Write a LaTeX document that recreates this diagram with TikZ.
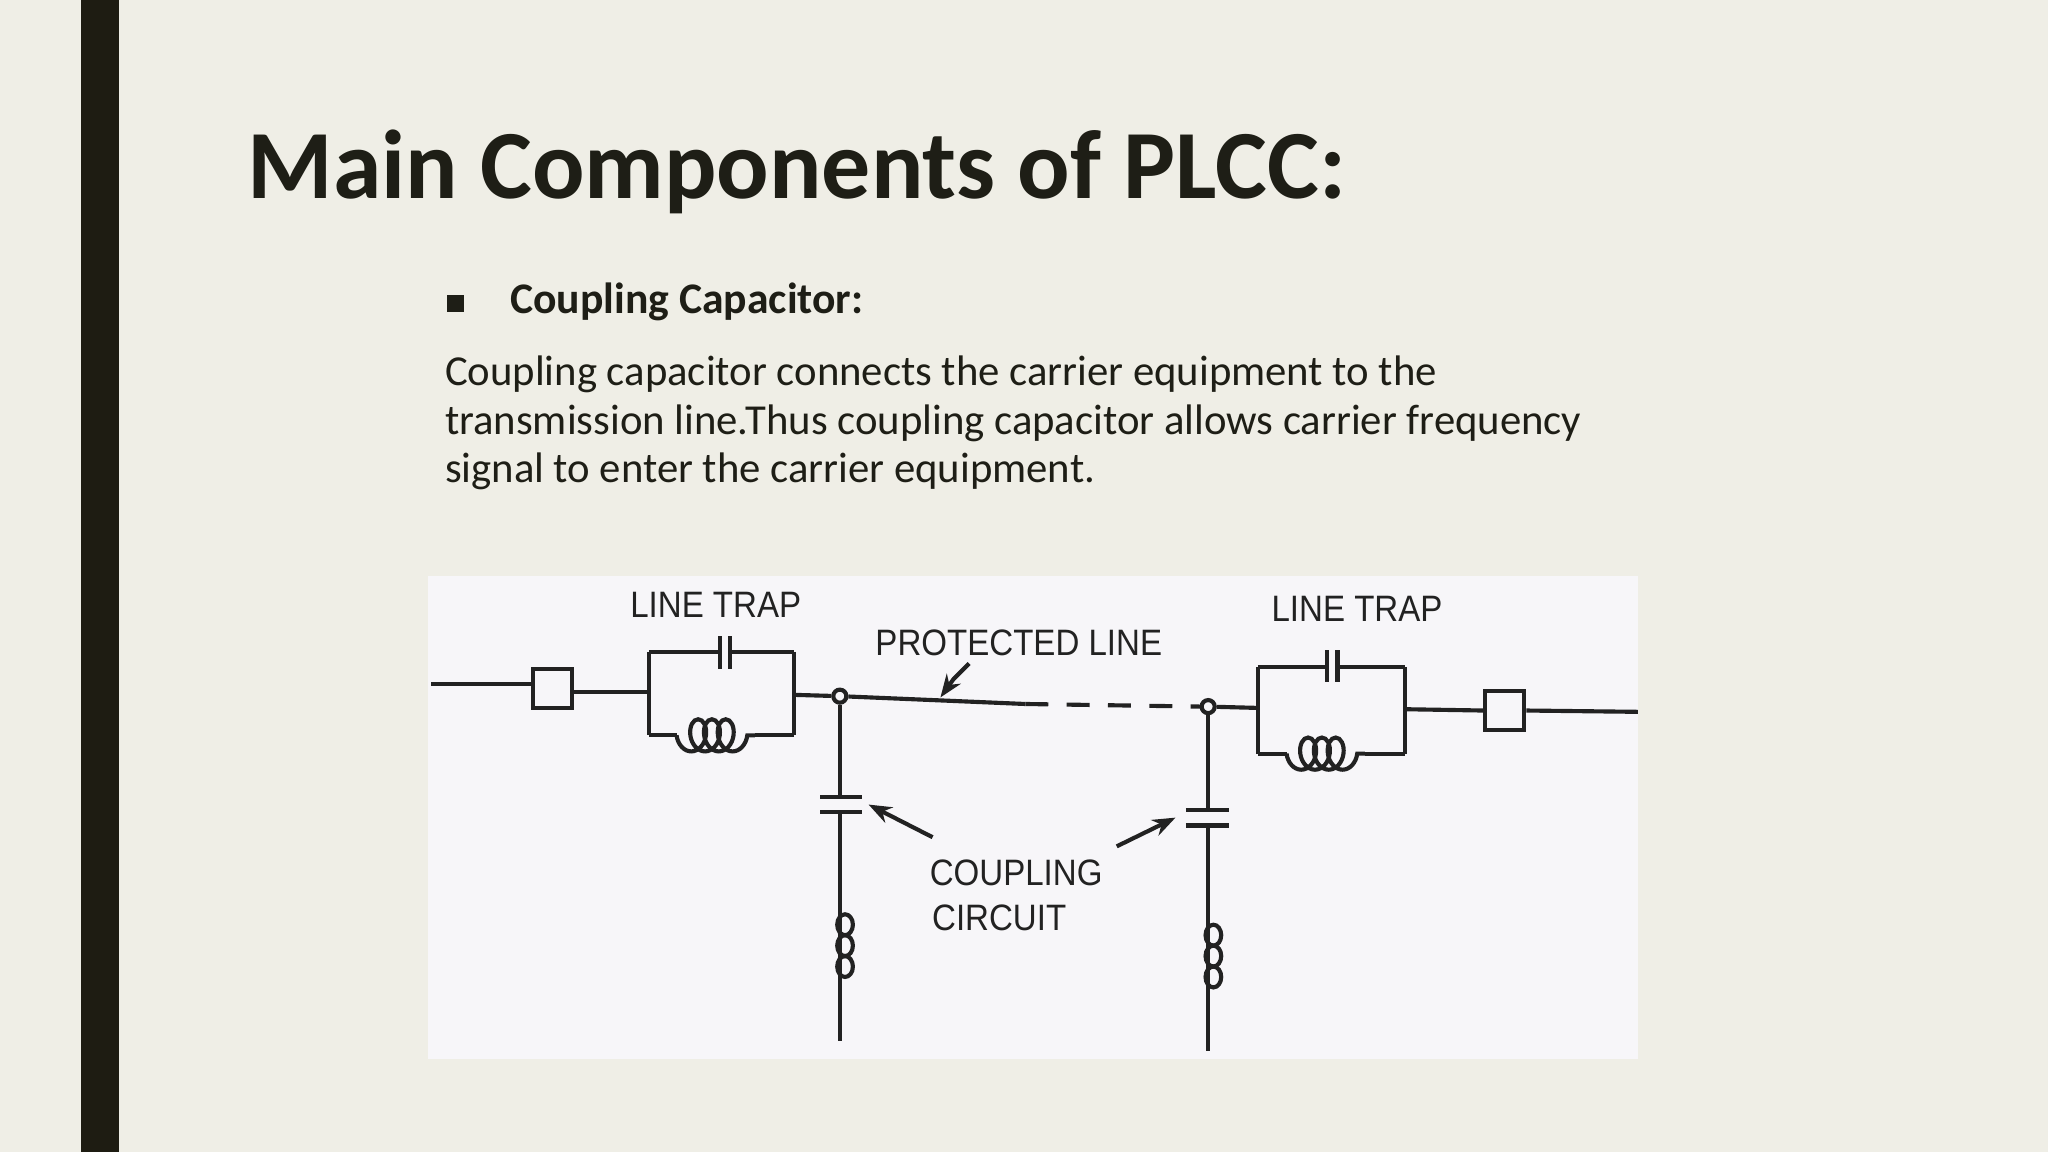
\documentclass[tikz,border=0pt]{standalone}
\usepackage{fontspec}
\setmainfont{Carlito}
\newfontfamily\diag{Liberation Sans}
\usetikzlibrary{decorations.pathmorphing,arrows.meta}
\definecolor{bg}{HTML}{EFEEE6}
\definecolor{bar}{HTML}{1E1C12}
\definecolor{panel}{HTML}{F7F6F9}
\definecolor{ink}{HTML}{1E1E16}
\definecolor{wire}{HTML}{222222}
\begin{document}
\begin{tikzpicture}[x=0.01cm,y=-0.01cm,
  w/.style={draw=wire,line width=0.9pt},
  coilh/.style={w,decorate,decoration={coil,aspect=0.7,amplitude=3.5pt,segment length=3pt,mirror}},
  lbl/.style={font=\diag\fontsize{8}{10}\selectfont,text=wire,inner sep=0pt,xscale=0.9},
  junc/.style={circle,draw=wire,line width=0.9pt,inner sep=0pt,minimum size=0.1cm},
  fuse/.style={draw=wire,line width=0.9pt,inner sep=0pt,minimum width=0.3cm,minimum height=0.3cm}]
\fill[bg] (0,0) rectangle (1568,882);
\useasboundingbox (0,0) rectangle (1568,882);
\fill[bar] (62,0) rectangle (91,882);
\node[anchor=base west,inner sep=0pt,text=ink,font=\bfseries\fontsize{21.3}{26}\selectfont] (title) at (189,152) {Main Components of PLCC:};
\node[fill=ink,inner sep=0pt,minimum size=0.13cm] (bul) at (349,232) {};
\node[anchor=base west,inner sep=0pt,text=ink,font=\bfseries\fontsize{9.5}{11}\selectfont] (head) at (390,240) {Coupling Capacitor:};
\node[anchor=north west,inner sep=0pt,text=ink,align=left,font=\fontsize{9.3}{10.5}\selectfont] (body) at (340,272) {Coupling capacitor connects the carrier equipment to the\\transmission line.Thus coupling capacitor allows carrier frequency\\signal to enter the carrier equipment.};
\fill[panel] (328,441) rectangle (1254,811);
% left fuse and trap
\coordinate (L0) at (330,524);
\node[fuse] (f1) at (423,527) {};
\draw[w] (L0) -- (f1.west |- L0);
\coordinate (t1l) at (497,530);
\draw[w] (f1.east |- t1l) -- (t1l);
\draw[w] (497,499) -- (497,563) (608,499) -- (608,563);
\draw[w] (497,499) -- (551,499) (559,499) -- (608,499);
\draw[w] (551,487) -- (551,512) (559,487) -- (559,512);
\draw[w] (497,563) -- (518,563) (578,563) -- (608,563);
\draw[coilh] (518,563) -- (578,563);
\node[junc] (n1) at (643,533) {};
\draw[w] (608,532) -- (n1);
\coordinate (pl) at (785,539);
\draw[w] (n1) -- (pl);
\coordinate (n2w) at (920,541);
\draw[w,dash pattern=on 5pt off 4pt] (pl) -- (n2w);
\node[junc] (n2) at (925,541) {};
% right trap
\draw[w] (n2) -- (963,542);
\draw[w] (963,511) -- (963,577) (1076,511) -- (1076,577);
\draw[w] (963,511) -- (1016,511) (1024,511) -- (1076,511);
\draw[w] (1016,498) -- (1016,522) (1024,498) -- (1024,522);
\draw[w] (963,577) -- (985,577) (1045,577) -- (1076,577);
\draw[coilh] (985,577) -- (1045,577);
\node[fuse] (f2) at (1152,544) {};
\draw[w] (1076,543) -- (f2.west);
\coordinate (R0) at (1254,545);
\draw[w] (f2.east) -- (R0);
% left coupling
\draw[w] (n1) -- (643,610);
\draw[w] (628,610) -- (660,610) (628,622) -- (660,622);
\draw[w] (643,622) -- (643,797);
\foreach \yy in {708,724,740} \draw[w] (647,\yy) ellipse [x radius=6,y radius=8];
% right coupling
\draw[w] (n2) -- (925,620);
\draw[w] (908,620) -- (941,620) (908,632) -- (941,632);
\draw[w] (925,632) -- (925,805);
\foreach \yy in {716,732,748} \draw[w] (929,\yy) ellipse [x radius=6,y radius=8];
% labels
\node[lbl] (lt1) at (548,463) {LINE TRAP};
\node[lbl] (lt2) at (1039,466) {LINE TRAP};
\node[lbl] (plab) at (780,492) {PROTECTED LINE};
\node[lbl] (cp) at (778,668) {COUPLING};
\node[lbl] (cc) at (765,703) {CIRCUIT};
\coordinate (pa) at (742,508);
\coordinate (pb) at (720,534);
\draw[w,-{Stealth[length=5pt]}] (pa) -- (730,520) -- (pb);
\coordinate (ca1) at (714,641);
\coordinate (ca2) at (665,616);
\draw[w,-{Stealth[length=5pt]}] (ca1) -- (ca2);
\coordinate (cb1) at (855,648);
\coordinate (cb2) at (900,626);
\draw[w,-{Stealth[length=5pt]}] (cb1) -- (cb2);
\end{tikzpicture}
\end{document}
